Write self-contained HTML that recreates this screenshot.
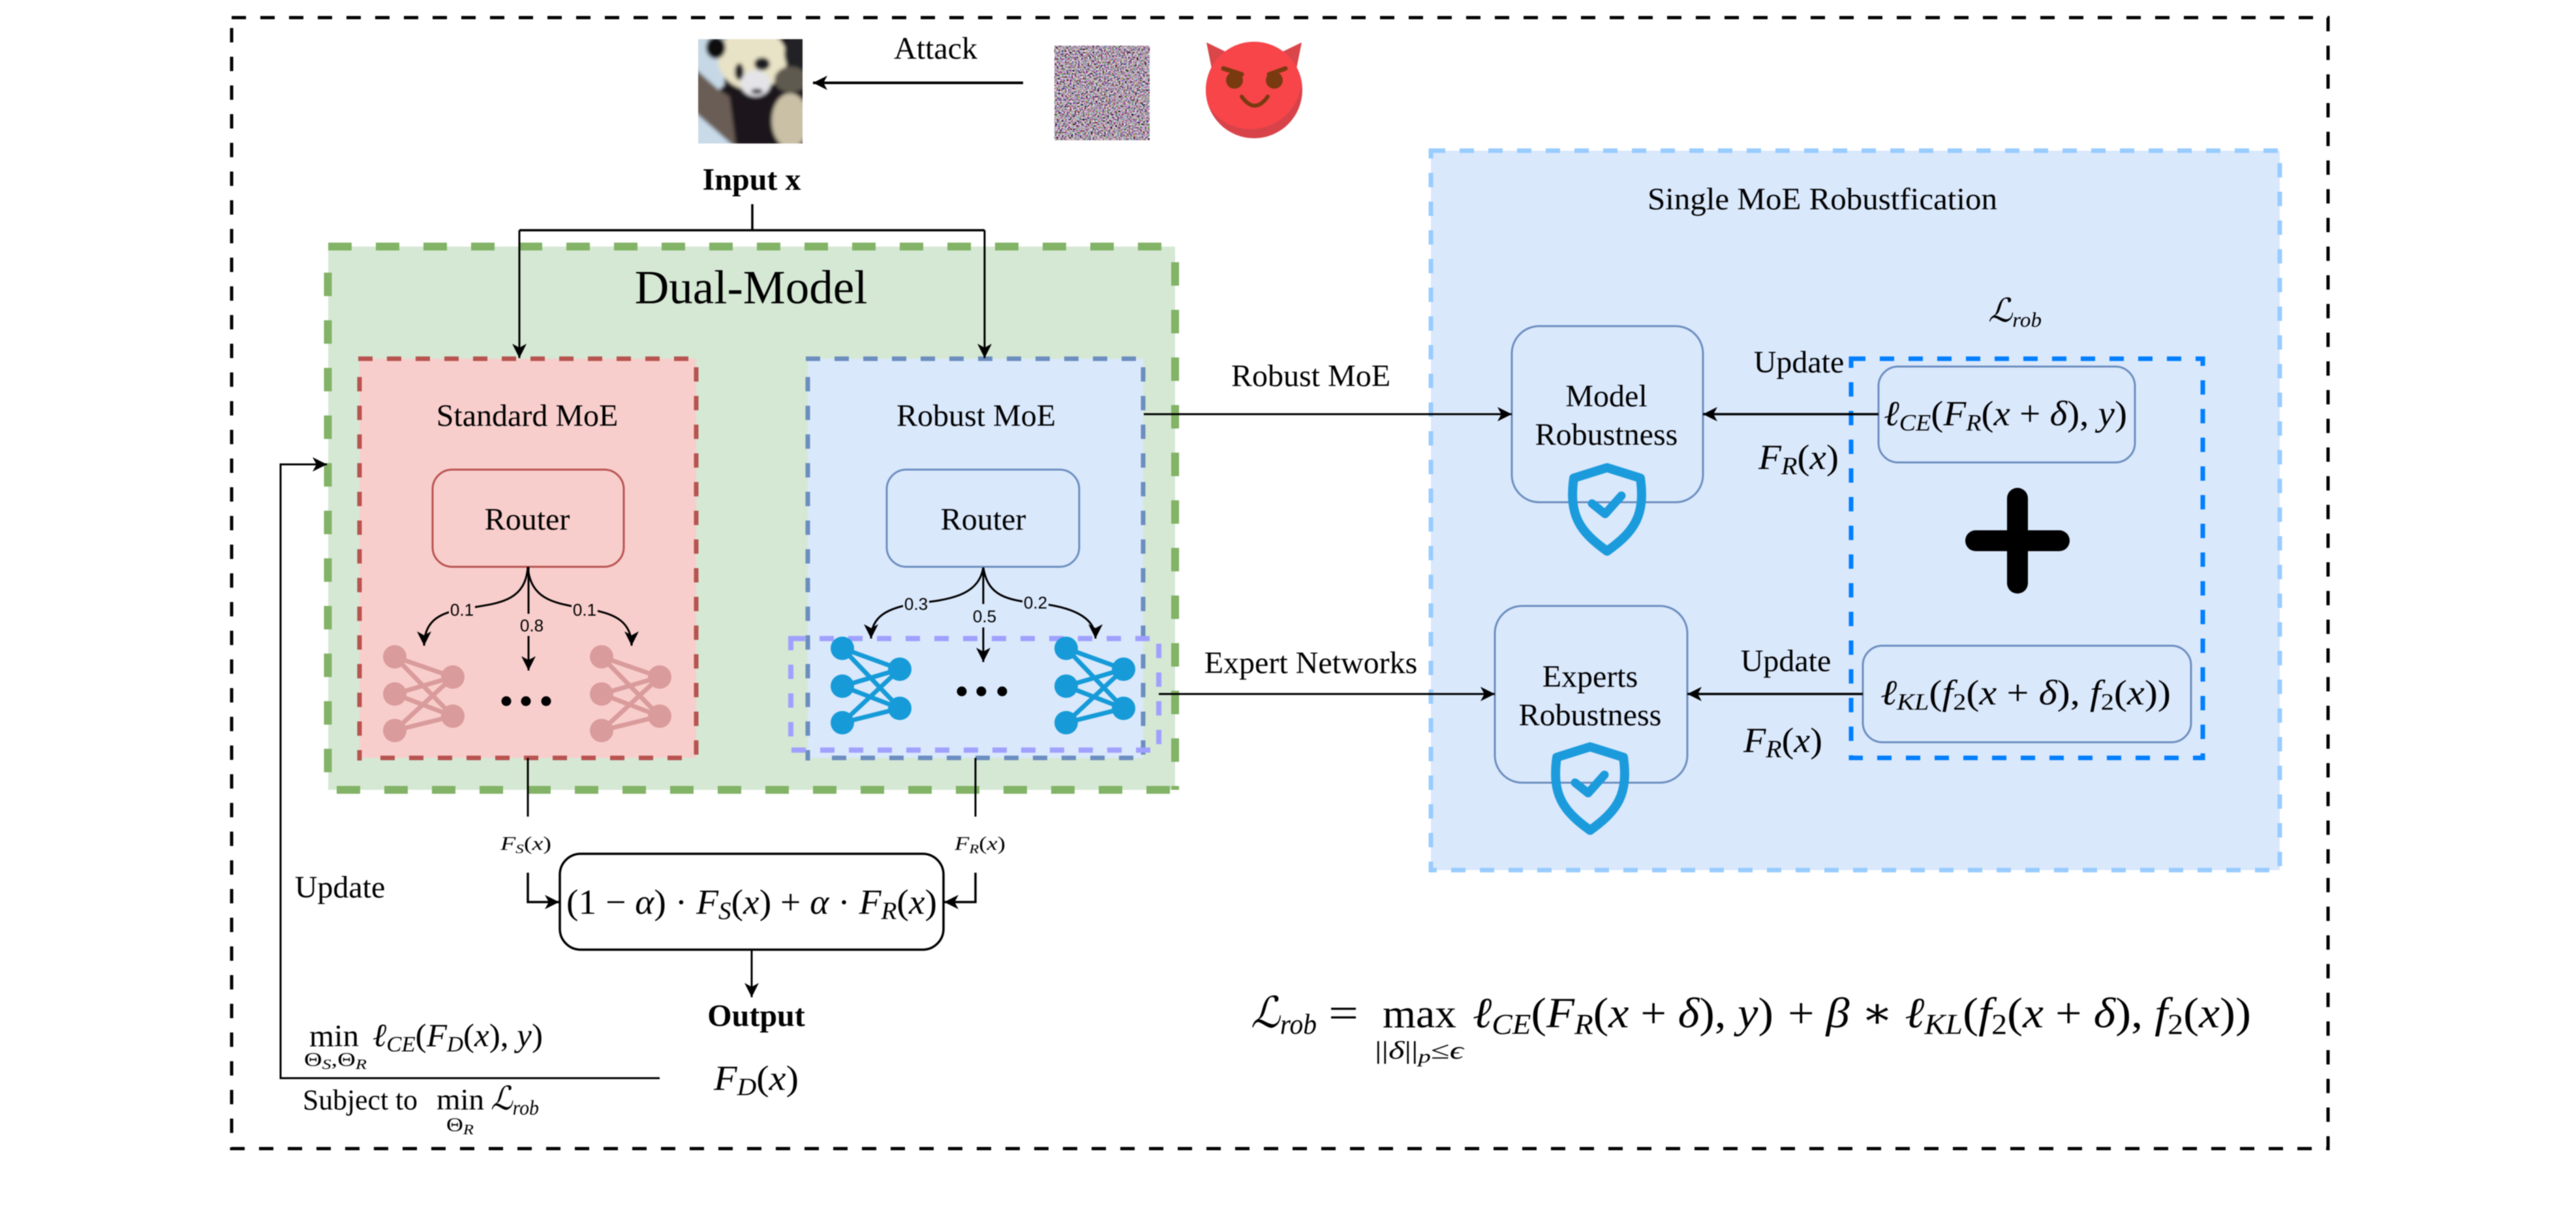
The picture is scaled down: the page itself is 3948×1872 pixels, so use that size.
<!DOCTYPE html>
<html><head><meta charset="utf-8"><style>
html,body{margin:0;padding:0;background:#fff}
svg{display:block;filter:blur(0.8px)}
text{font-family:"Liberation Serif","DejaVu Serif",serif;fill:#000}
.m{font-style:italic}
.u{font-style:normal}
.ls{font-family:"Liberation Sans",sans-serif;font-size:26px}
</style></head><body>
<svg xmlns="http://www.w3.org/2000/svg" width="3948" height="1872" viewBox="0 0 3948 1872">
<defs>
<marker id="a" markerUnits="userSpaceOnUse" markerWidth="24" markerHeight="24" refX="22" refY="11" orient="auto" overflow="visible"><path d="M22 11L0 0L6 11L0 22Z" fill="#000"/></marker>
<filter id="b2" x="-5%" y="-5%" width="110%" height="110%"><feGaussianBlur stdDeviation="3"/></filter>
<filter id="nz" x="0" y="0" width="100%" height="100%"><feTurbulence type="fractalNoise" baseFrequency="0.4" numOctaves="2" seed="4"/><feColorMatrix type="matrix" values="1.7 0.6 0.6 0 -1.02  0.6 1.6 0.6 0 -1.05  0.6 0.6 1.7 0 -1.02  0 0 0 0 1"/></filter>
<clipPath id="pc"><rect x="0" y="0" width="160" height="160"/></clipPath>
<clipPath id="dc"><circle cx="1922" cy="138" r="74"/></clipPath>
<g id="nr" stroke="#d99b9b" fill="#d99b9b" stroke-width="7">
<path d="M605 1007L694 1038M605 1007L694 1098M605 1064L694 1038M605 1064L694 1098M605 1120L694 1038M605 1120L694 1098" fill="none"/>
<circle cx="605" cy="1007" r="18" stroke="none"/><circle cx="605" cy="1064" r="18" stroke="none"/><circle cx="605" cy="1120" r="18" stroke="none"/><circle cx="694" cy="1038" r="18" stroke="none"/><circle cx="694" cy="1098" r="18" stroke="none"/>
</g>
<g id="nb" stroke="#169bd8" fill="#169bd8" stroke-width="7">
<path d="M1291 994L1379 1026M1291 994L1379 1086M1291 1052L1379 1026M1291 1052L1379 1086M1291 1108L1379 1026M1291 1108L1379 1086" fill="none"/>
<circle cx="1291" cy="994" r="18" stroke="none"/><circle cx="1291" cy="1052" r="18" stroke="none"/><circle cx="1291" cy="1108" r="18" stroke="none"/><circle cx="1379" cy="1026" r="18" stroke="none"/><circle cx="1379" cy="1086" r="18" stroke="none"/>
</g>
<g id="sh" fill="none" stroke="#1b9bdc" stroke-linejoin="round" stroke-linecap="round">
<path d="M2463 717L2514 733C2522 790 2505 815 2463 845C2421 815 2404 790 2412 733Z" stroke-width="14"/>
<path d="M2440 772L2460 788L2485 760" stroke-width="13"/>
</g>
</defs>

<rect width="3948" height="1872" fill="#fff"/>

<!-- outer dashed frame -->
<rect x="355" y="27" width="3213" height="1734" fill="none" stroke="#000" stroke-width="5" stroke-dasharray="22 22"/>

<!-- panda -->
<g transform="translate(1070 60)"><g clip-path="url(#pc)"><g filter="url(#b2)">
<rect x="-5" y="-5" width="170" height="170" fill="#1b191a"/>
<path d="M-5 -5L40 -5L40 70L32 78L-5 45Z" fill="#c6d8e5"/>
<path d="M-5 45L32 78L48 88L58 165L-5 112Z" fill="#6a5d54"/>
<path d="M-5 112L56 165L-5 165Z" fill="#c9dae8"/>
<ellipse cx="83" cy="30" rx="53" ry="48" fill="#e8e2c6"/>
<ellipse cx="27" cy="13" rx="15" ry="17" fill="#111"/>
<ellipse cx="150" cy="22" rx="18" ry="28" fill="#232326"/>
<ellipse cx="142" cy="62" rx="25" ry="20" fill="#5f5a50"/>
<ellipse cx="141" cy="125" rx="28" ry="42" fill="#c9c0a6"/>
<ellipse cx="98" cy="38" rx="12" ry="10" fill="#1a1a22"/>
<ellipse cx="63" cy="50" rx="7" ry="13" fill="#1a1a22"/>
<ellipse cx="88" cy="68" rx="23" ry="20" fill="#e4e4e8"/>
<ellipse cx="90" cy="80" rx="9" ry="4" fill="#333"/>
</g></g></g>

<!-- noise -->
<rect x="1616" y="70" width="146" height="145" filter="url(#nz)"/>

<!-- devil -->
<path d="M1849 65L1857 105L1880 80Z" fill="#d9474b"/>
<path d="M1995 65L1987 105L1964 80Z" fill="#d9474b"/>
<circle cx="1922" cy="138" r="74" fill="#d8434a"/>
<g clip-path="url(#dc)"><circle cx="1917" cy="120" r="78" fill="#f7454a"/></g>
<circle cx="1892" cy="123" r="13" fill="#7a3a10"/>
<circle cx="1953" cy="123" r="13" fill="#7a3a10"/>
<path d="M1875 105L1903 114M1970 105L1945 114" stroke="#7a3a10" stroke-width="7" stroke-linecap="round" fill="none"/>
<path d="M1903 148Q1923 176 1943 148" stroke="#7a3a10" stroke-width="6" stroke-linecap="round" fill="none"/>

<!-- attack -->
<path d="M1568 127L1246 127" stroke="#000" stroke-width="4" fill="none" marker-end="url(#a)"/>
<text x="1434" y="90" font-size="48" text-anchor="middle">Attack</text>
<text x="1152" y="291" font-size="48" font-weight="bold" text-anchor="middle">Input x</text>

<!-- green box -->
<rect x="503" y="378" width="1298" height="833" fill="#d5e8d4"/>
<g stroke="#82b366" stroke-width="12" fill="none" stroke-dasharray="36 37">
<path d="M503 378H1801"/>
<path d="M502.500 418V1211"/>
<path d="M1801 402V1211"/>
<path d="M516 1211H1801"/>
</g>
<text x="1151" y="465" font-size="73" text-anchor="middle">Dual-Model</text>

<!-- red box -->
<rect x="551" y="550" width="516" height="612" fill="#f8cecc"/>
<g stroke="#b85450" stroke-width="7" fill="none" stroke-dasharray="22 22">
<path d="M549 550H1067"/>
<path d="M551 578V1162"/>
<path d="M1067 563V1162"/>
<path d="M583 1162H1067"/>
<path d="M551 1151V1166" stroke-dasharray="none"/>
</g>
<text x="808" y="653" font-size="48" text-anchor="middle">Standard MoE</text>
<rect x="663" y="720" width="293" height="149" rx="30" fill="#f8cecc" stroke="#b85450" stroke-width="3"/>
<text x="808" y="812" font-size="48" text-anchor="middle">Router</text>

<!-- blue box -->
<rect x="1238" y="550" width="514" height="612" fill="#dae8fc"/>
<g stroke="#6c8ebf" stroke-width="7" fill="none" stroke-dasharray="22 22">
<path d="M1235 550H1753"/>
<path d="M1238 578V1162"/>
<path d="M1752 563V1162"/>
<path d="M1275 1162H1753"/>
<path d="M1238 1151V1166" stroke-dasharray="none"/>
</g>
<text x="1496" y="653" font-size="48" text-anchor="middle">Robust MoE</text>
<rect x="1359" y="720" width="295" height="149" rx="30" fill="#dae8fc" stroke="#6c8ebf" stroke-width="3"/>
<text x="1507" y="812" font-size="48" text-anchor="middle">Router</text>

<!-- expert nets -->
<use href="#nr"/><use href="#nr" transform="translate(317 0)"/>
<circle cx="776" cy="1075" r="7.500"/><circle cx="806" cy="1075" r="7.500"/><circle cx="837" cy="1075" r="7.500"/>
<path d="M1212 979H1776V1150H1212Z" fill="none" stroke="#a0a0ff" stroke-width="8" stroke-dasharray="22 22"/>
<use href="#nb"/><use href="#nb" transform="translate(343 0)"/>
<circle cx="1474" cy="1060" r="7.500"/><circle cx="1504" cy="1060" r="7.500"/><circle cx="1536" cy="1060" r="7.500"/>

<!-- router connectors -->
<g fill="none" stroke="#000" stroke-width="3">
<path d="M809 869C805 925 760 925 708 934C670 940 650 955 650 990" marker-end="url(#a)"/>
<path d="M809 869C813 925 860 925 900 934C945 940 968 955 968 990" marker-end="url(#a)"/>
<path d="M810 869V1028" marker-end="url(#a)"/>
<path d="M1507 870C1500 915 1450 920 1404 925C1360 932 1335 945 1335 979" marker-end="url(#a)"/>
<path d="M1507 870C1514 915 1545 920 1590 925C1640 930 1679 945 1679 979" marker-end="url(#a)"/>
<path d="M1507 870V1015" marker-end="url(#a)"/>
</g>
<rect x="688" y="922" width="40" height="26" fill="#f8cecc"/><text class="ls" x="708" y="944" text-anchor="middle">0.1</text>
<rect x="876" y="922" width="40" height="26" fill="#f8cecc"/><text class="ls" x="896" y="944" text-anchor="middle">0.1</text>
<rect x="795" y="941" width="40" height="34" fill="#f8cecc"/><text class="ls" x="815" y="968" text-anchor="middle">0.8</text>
<rect x="1384" y="914" width="40" height="26" fill="#dae8fc"/><text class="ls" x="1404" y="935" text-anchor="middle">0.3</text>
<rect x="1567" y="912" width="40" height="26" fill="#dae8fc"/><text class="ls" x="1587" y="933" text-anchor="middle">0.2</text>
<rect x="1489" y="926" width="40" height="36" fill="#dae8fc"/><text class="ls" x="1509" y="954" text-anchor="middle">0.5</text>

<!-- input arrows -->
<path d="M1153 313V353M796 353H1509" stroke="#000" stroke-width="3.500" fill="none"/>
<path d="M796 353V549" stroke="#000" stroke-width="3" fill="none" marker-end="url(#a)"/>
<path d="M1509 353V549" stroke="#000" stroke-width="3" fill="none" marker-end="url(#a)"/>

<!-- feedback -->
<path d="M1011 1653H430V712H501" stroke="#000" stroke-width="3" fill="none" marker-end="url(#a)"/>
<text x="521" y="1376" font-size="48" text-anchor="middle">Update</text>

<!-- lines to formula -->
<path d="M809 1162V1252M1495 1162V1252" stroke="#000" stroke-width="3" fill="none"/>
<path d="M809 1338V1383H857" stroke="#000" stroke-width="3.500" fill="none" marker-end="url(#a)"/>
<path d="M1495 1338V1383H1447" stroke="#000" stroke-width="3.500" fill="none" marker-end="url(#a)"/>
<text x="767" y="1303" font-size="30" class="m" textLength="78" lengthAdjust="spacingAndGlyphs">F<tspan font-size="20" dy="5">S</tspan><tspan class="u" dy="-5">(</tspan>x<tspan class="u">)</tspan></text>
<text x="1463" y="1303" font-size="30" class="m" textLength="78" lengthAdjust="spacingAndGlyphs">F<tspan font-size="20" dy="5">R</tspan><tspan class="u" dy="-5">(</tspan>x<tspan class="u">)</tspan></text>

<!-- formula box -->
<rect x="858" y="1309" width="588" height="147" rx="32" fill="#fff" stroke="#000" stroke-width="3.500"/>
<text x="868" y="1401" font-size="54" class="m" textLength="568" lengthAdjust="spacingAndGlyphs"><tspan class="u">(1 − </tspan>α<tspan class="u">) · </tspan>F<tspan font-size="38" dy="8">S</tspan><tspan class="u" dy="-8">(</tspan>x<tspan class="u">) + </tspan>α<tspan class="u"> · </tspan>F<tspan font-size="38" dy="8">R</tspan><tspan class="u" dy="-8">(</tspan>x<tspan class="u">)</tspan></text>
<path d="M1152 1456V1529" stroke="#000" stroke-width="3" fill="none" marker-end="url(#a)"/>
<text x="1159" y="1573" font-size="48" font-weight="bold" text-anchor="middle">Output</text>
<text x="1094" y="1671" font-size="54" class="m" textLength="130" lengthAdjust="spacingAndGlyphs">F<tspan font-size="38" dy="8">D</tspan><tspan class="u" dy="-8">(</tspan>x<tspan class="u">)</tspan></text>

<!-- min objective -->
<text x="474" y="1604" font-size="48" textLength="76" lengthAdjust="spacingAndGlyphs">min</text>
<text x="466" y="1634" font-size="30" textLength="96" lengthAdjust="spacingAndGlyphs">Θ<tspan class="m" font-size="22" dy="5">S</tspan><tspan dy="-5">,Θ</tspan><tspan class="m" font-size="22" dy="5">R</tspan></text>
<text x="571" y="1604" font-size="50" class="m" textLength="261" lengthAdjust="spacingAndGlyphs">ℓ<tspan font-size="34" dy="8">CE</tspan><tspan class="u" dy="-8">(</tspan>F<tspan font-size="34" dy="8">D</tspan><tspan class="u" dy="-8">(</tspan>x<tspan class="u">), </tspan>y<tspan class="u">)</tspan></text>
<text x="464" y="1701" font-size="44" textLength="176" lengthAdjust="spacingAndGlyphs">Subject to</text>
<text x="669" y="1701" font-size="46" textLength="73" lengthAdjust="spacingAndGlyphs">min</text>
<text x="684" y="1734" font-size="30" textLength="42" lengthAdjust="spacingAndGlyphs">Θ<tspan class="m" font-size="22" dy="5">R</tspan></text>
<text x="752" y="1701" font-size="50" class="m" textLength="74" lengthAdjust="spacingAndGlyphs">ℒ<tspan font-size="32" dy="8">rob</tspan></text>

<!-- right panel -->
<rect x="2193" y="231" width="1301" height="1103" fill="#dae8fc" stroke="#99ccff" stroke-width="7" stroke-dasharray="22 22"/>
<text x="2793" y="321" font-size="48" text-anchor="middle" textLength="536" lengthAdjust="spacingAndGlyphs">Single MoE Robustfication</text>
<text x="3047" y="493" font-size="50" class="m" textLength="82" lengthAdjust="spacingAndGlyphs">ℒ<tspan font-size="32" dy="8">rob</tspan></text>

<text x="2009" y="592" font-size="48" text-anchor="middle">Robust MoE</text>
<text x="2009" y="1032" font-size="48" text-anchor="middle">Expert Networks</text>

<rect x="2837" y="550" width="539" height="612" fill="none" stroke="#007fff" stroke-width="7" stroke-dasharray="22 22"/>

<rect x="2317" y="500" width="293" height="270" rx="42" fill="#dae8fc" stroke="#6c8ebf" stroke-width="3"/>
<text x="2462" y="623" font-size="48" text-anchor="middle">Model</text>
<text x="2462" y="682" font-size="48" text-anchor="middle">Robustness</text>
<use href="#sh"/>

<rect x="2291" y="929" width="295" height="271" rx="42" fill="#dae8fc" stroke="#6c8ebf" stroke-width="3"/>
<text x="2437" y="1053" font-size="48" text-anchor="middle">Experts</text>
<text x="2437" y="1112" font-size="48" text-anchor="middle">Robustness</text>
<use href="#sh" transform="translate(-26 428)"/>

<rect x="2879" y="562" width="393" height="147" rx="30" fill="#dae8fc" stroke="#6c8ebf" stroke-width="3"/>
<text x="2887" y="652" font-size="54" class="m" textLength="373" lengthAdjust="spacingAndGlyphs">ℓ<tspan font-size="36" dy="8">CE</tspan><tspan class="u" dy="-8">(</tspan>F<tspan font-size="36" dy="8">R</tspan><tspan class="u" dy="-8">(</tspan>x<tspan class="u"> + </tspan>δ<tspan class="u">), </tspan>y<tspan class="u">)</tspan></text>
<rect x="2855" y="990" width="503" height="148" rx="30" fill="#dae8fc" stroke="#6c8ebf" stroke-width="3"/>
<text x="2882" y="1080" font-size="54" class="m" textLength="445" lengthAdjust="spacingAndGlyphs">ℓ<tspan font-size="36" dy="8">KL</tspan><tspan class="u" dy="-8">(</tspan>f<tspan class="u" font-size="36" dy="8">2</tspan><tspan class="u" dy="-8">(</tspan>x<tspan class="u"> + </tspan>δ<tspan class="u">), </tspan>f<tspan class="u" font-size="36" dy="8">2</tspan><tspan class="u" dy="-8">(</tspan>x<tspan class="u">))</tspan></text>

<path d="M3028 829H3156M3092 764V894" stroke="#000" stroke-width="32" stroke-linecap="round" fill="none"/>

<!-- connectors to right -->
<path d="M1753 635H2317" stroke="#000" stroke-width="3" fill="none" marker-end="url(#a)"/>
<path d="M1776 1064H2291" stroke="#000" stroke-width="3" fill="none" marker-end="url(#a)"/>
<path d="M2879 635H2610" stroke="#000" stroke-width="3.500" fill="none" marker-end="url(#a)"/>
<path d="M2855 1064H2586" stroke="#000" stroke-width="3.500" fill="none" marker-end="url(#a)"/>
<text x="2757" y="571" font-size="48" text-anchor="middle">Update</text>
<text x="2737" y="1029" font-size="48" text-anchor="middle">Update</text>
<text x="2695" y="719" font-size="54" class="m" textLength="123" lengthAdjust="spacingAndGlyphs">F<tspan font-size="38" dy="8">R</tspan><tspan class="u" dy="-8">(</tspan>x<tspan class="u">)</tspan></text>
<text x="2672" y="1153" font-size="54" class="m" textLength="121" lengthAdjust="spacingAndGlyphs">F<tspan font-size="38" dy="8">R</tspan><tspan class="u" dy="-8">(</tspan>x<tspan class="u">)</tspan></text>

<!-- bottom equation -->
<text x="1917" y="1575" font-size="66" class="m" textLength="101" lengthAdjust="spacingAndGlyphs">ℒ<tspan font-size="44" dy="10">rob</tspan></text>
<text x="2036" y="1575" font-size="66" textLength="46" lengthAdjust="spacingAndGlyphs">=</text>
<text x="2119" y="1575" font-size="62" textLength="113" lengthAdjust="spacingAndGlyphs">max</text>
<text x="2107" y="1623" font-size="38" class="m" textLength="136" lengthAdjust="spacingAndGlyphs"><tspan class="u">||</tspan>δ<tspan class="u">||</tspan><tspan font-size="28" dy="6">p</tspan><tspan class="u" dy="-6">≤</tspan>ϵ</text>
<text x="2257" y="1575" font-size="66" class="m" textLength="461" lengthAdjust="spacingAndGlyphs">ℓ<tspan font-size="44" dy="10">CE</tspan><tspan class="u" dy="-10">(</tspan>F<tspan font-size="44" dy="10">R</tspan><tspan class="u" dy="-10">(</tspan>x<tspan class="u"> + </tspan>δ<tspan class="u">), </tspan>y<tspan class="u">)</tspan></text>
<text x="2740" y="1575" font-size="66" class="m" textLength="710" lengthAdjust="spacingAndGlyphs"><tspan class="u">+ </tspan>β<tspan class="u"> ∗ </tspan>ℓ<tspan font-size="44" dy="10">KL</tspan><tspan class="u" dy="-10">(</tspan>f<tspan class="u" font-size="44" dy="10">2</tspan><tspan class="u" dy="-10">(</tspan>x<tspan class="u"> + </tspan>δ<tspan class="u">), </tspan>f<tspan class="u" font-size="44" dy="10">2</tspan><tspan class="u" dy="-10">(</tspan>x<tspan class="u">))</tspan></text>
</svg>
</body></html>
